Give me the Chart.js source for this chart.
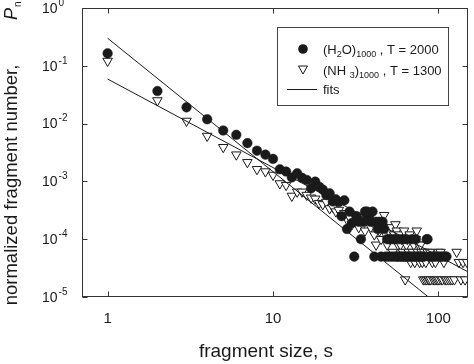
<!DOCTYPE html>
<html>
<head>
<meta charset="utf-8">
<script src="https://cdn.jsdelivr.net/npm/chart.js@4"></script>
<style>
html,body{margin:0;padding:0;background:#fff;}
#wrap{width:474px;height:364px;position:relative;}
</style>
</head>
<body>
<div id="wrap"><canvas id="c" width="474" height="364"></canvas></div>
<script>
// ---- data ----
const h2oSizes = [1,2,3,4,5,6,7,8,9,10,11,12,13,14,15,16,17,18,19,20,21,22,23,24,25,26,27,28,29,30,31,32,33,34,35,36,37,38,39,40,41,42,43,44,45,46,47,48,49,50,51,52,53,54,55,56,57,58,59,60,61,62,63,64,65,66,68,69,70,72,73,74,76,78,80,82,85,86,88,90,93,96,100,103,106,110,112];
const h2oValues = [0.164,0.0366,0.0191,0.0119,0.0076,0.0064,0.0046,0.0034,0.0029,0.00245,0.00162,0.00148,0.00117,0.00138,0.00115,0.00106,0.00076,0.00099,0.00081,0.00072,0.00058,0.00062,0.00045,0.00049,0.00044,0.00025,0.00047,0.00015,0.00030,0.00019,0.00005,0.00025,0.00020,0.00010,0.00020,0.00030,0.00030,0.00025,0.00020,0.00030,0.00005,0.00020,0.00015,0.00020,0.00005,0.00020,0.00015,0.00005,0.00010,0.00005,0.00010,0.00005,0.00010,0.00005,0.00010,0.00005,0.00005,0.00010,0.00005,0.00005,0.00010,0.00005,0.00005,0.00010,0.00005,0.00005,0.00005,0.00010,0.00005,0.00005,0.00010,0.00005,0.00005,0.00005,0.00005,0.00005,0.00010,0.00010,0.00005,0.00005,0.00005,0.00005,0.00005,0.00005,0.00005,0.00005,0.00005];

const nh3Sizes = [1,2,3,4,5,6,7,8,9,10,11,12,13,14,15,16,17,18,19,20,21,22,23,24,25,26,27,28,29,30,31,32,33,34,35,36,37,38,39,40,41,42,43,44,45,46,47,48,49,50,51,52,53,54,55,56,57,58,59,60,61,62,63,64,65,66,67,68,69,70,71,72,73,74,75,76,77,78,79,80,81,82,83,84,85,86,87,88,89,90,92,93,95,96,97,99,100,101,103,104,106,108,110,112,115,118,121,125,129,133,137,141,145,149];
const nh3Values = [0.121,0.0251,0.0111,0.0061,0.0039,0.0029,0.00214,0.00162,0.00148,0.00129,0.00092,0.00086,0.00056,0.00066,0.00066,0.00058,0.00052,0.00050,0.00042,0.00040,0.00044,0.00034,0.00036,0.00030,0.00032,0.00026,0.00028,0.00022,0.00024,0.00018,0.00026,0.00020,0.00016,0.00022,0.00018,0.00014,0.00030,0.00024,0.00016,0.00020,0.00012,0.00008,0.00018,0.00014,0.00010,0.00016,0.00026,0.00012,0.00008,0.00014,0.00010,0.00016,0.00006,0.00012,0.00018,0.00014,0.00008,0.00012,0.00008,0.00010,0.00006,0.00014,0.00002,0.00008,0.00010,0.00006,0.00012,0.00004,0.00010,0.00006,0.00008,0.00004,0.00010,0.00014,0.00006,0.00008,0.00004,0.00008,0.00006,0.00004,0.00002,0.00006,0.00002,0.00004,0.00002,0.00006,0.00002,0.00002,0.00006,0.00002,0.00004,0.00002,0.00002,0.00004,0.00002,0.00002,0.00006,0.00002,0.00006,0.00002,0.00002,0.00004,0.00002,0.00002,0.00002,0.00002,0.00002,0.00002,0.00006,0.00004,0.00002,0.00004,0.00002,0.00004];

// fit line end points
const fitH2oX = [1, 87];
const fitH2oY = [0.30, 0.00001];
const fitNh3X = [1, 150];
const fitNh3Y = [0.059, 0.0000275];

const xTicks = [1, 10, 100];
const xTickLabels = ['1', '10', '100'];
const yTicks = [1, 0.1, 0.01, 0.001, 0.0001, 0.00001];
const yTickExps = ['0', '-1', '-2', '-3', '-4', '-5'];

const xTitle = 'fragment size, s';
const yTitle = 'normalized fragment number,';
const legendLabels = [
  [['(H',13,0],['2',9,3],['O)',13,0],['1000',9,3],[' , T = 2000',13,0]],
  [['(NH ',13,0],['3',9,3],[')',13,0],['1000',9,3],[' , T = 1300',13,0]],
  [['fits',13,0]]
];

const toPts = (xs, ys) => xs.map((x, i) => ({x: x, y: ys[i]}));
const FONT = '"Liberation Sans", Arial, sans-serif';
const INK = '#1a1a1a';

const decor = {
  id: 'decor',
  afterDraw(chart) {
    const ctx = chart.ctx, a = chart.chartArea;
    const xs = chart.scales.x, ys = chart.scales.y;
    ctx.save();
    ctx.strokeStyle = '#333';
    ctx.lineWidth = 1;
    const L = Math.round(a.left) + 0.5, R = Math.round(a.right) - 0.5;
    const T = Math.round(a.top) + 0.5, B = Math.round(a.bottom) - 0.5;
    ctx.strokeRect(L, T, R - L, B - T);
    // inward ticks
    ctx.beginPath();
    xTicks.forEach(v => {
      const px = Math.round(xs.getPixelForValue(v)) + 0.5;
      ctx.moveTo(px, B); ctx.lineTo(px, B - 5);
      ctx.moveTo(px, T); ctx.lineTo(px, T + 5);
    });
    yTicks.forEach(v => {
      const py = Math.round(ys.getPixelForValue(v)) + 0.5;
      ctx.moveTo(L, py); ctx.lineTo(L + 5, py);
      ctx.moveTo(R, py); ctx.lineTo(R - 5, py);
    });
    ctx.stroke();

    ctx.fillStyle = INK;
    // x tick labels
    ctx.font = '15px ' + FONT;
    ctx.textAlign = 'center';
    ctx.textBaseline = 'middle';
    xTicks.forEach((v, i) => {
      ctx.fillText(xTickLabels[i], xs.getPixelForValue(v), 319);
    });
    // y tick labels 10^n
    ctx.textAlign = 'left';
    yTicks.forEach((v, i) => {
      const py = ys.getPixelForValue(v);
      ctx.font = '14px ' + FONT;
      ctx.textBaseline = 'middle';
      ctx.fillText('10', 42, py + 1);
      const w = ctx.measureText('10').width;
      ctx.font = '10px ' + FONT;
      ctx.fillText(yTickExps[i], 42 + w + 1, py - 5);
    });
    // x title
    ctx.font = '19px ' + FONT;
    ctx.textAlign = 'center';
    ctx.textBaseline = 'alphabetic';
    ctx.fillText(xTitle, 266, 357);
    // y title (rotated)
    ctx.save();
    ctx.translate(17, 185);
    ctx.rotate(-Math.PI / 2);
    ctx.font = '18.5px ' + FONT;
    ctx.textAlign = 'center';
    ctx.fillText(yTitle, 0, 0);
    ctx.textAlign = 'left';
    ctx.font = 'italic 18px ' + FONT;
    ctx.fillText('P', 185 - 20, 0);
    const pw = ctx.measureText('P').width;
    ctx.font = '10px ' + FONT;
    ctx.fillText('n', 185 - 20 + pw + 1, 4);
    ctx.restore();

    // legend
    const bx = 277.5, by = 27.5, bw = 171, bh = 78;
    ctx.fillStyle = '#fff';
    ctx.fillRect(bx, by, bw, bh);
    ctx.strokeStyle = '#444';
    ctx.strokeRect(bx, by, bw, bh);
    // markers
    ctx.fillStyle = INK;
    ctx.beginPath(); ctx.arc(303, 49, 4.8, 0, Math.PI * 2); ctx.fill();
    ctx.beginPath();
    ctx.moveTo(298.5, 66); ctx.lineTo(307.5, 66); ctx.lineTo(303, 74); ctx.closePath();
    ctx.fillStyle = '#fff'; ctx.fill();
    ctx.strokeStyle = INK; ctx.stroke();
    ctx.beginPath(); ctx.moveTo(287, 89.5); ctx.lineTo(317, 89.5); ctx.stroke();
    ctx.fillStyle = INK;
    const rowsY = [54, 75, 94];
    legendLabels.forEach((segs, r) => {
      let x = 323;
      segs.forEach(([t, sz, dy]) => {
        ctx.font = sz + 'px ' + FONT;
        ctx.textAlign = 'left';
        ctx.textBaseline = 'alphabetic';
        ctx.fillText(t, x, rowsY[r] + dy);
        x += ctx.measureText(t).width;
      });
    });
    ctx.restore();
  }
};

new Chart(document.getElementById('c'), {
  type: 'scatter',
  data: {
    datasets: [
      {
        label: 'fit H2O', data: toPts(fitH2oX, fitH2oY), showLine: true,
        borderColor: INK, borderWidth: 1, pointRadius: 0, fill: false
      },
      {
        label: 'fit NH3', data: toPts(fitNh3X, fitNh3Y), showLine: true,
        borderColor: INK, borderWidth: 1, pointRadius: 0, fill: false
      },
      {
        label: '(H2O)1000, T = 2000', data: toPts(h2oSizes, h2oValues),
        pointStyle: 'circle', pointRadius: 4.8, backgroundColor: INK,
        borderColor: INK, borderWidth: 0.5
      },
      {
        label: '(NH3)1000, T = 1300', data: toPts(nh3Sizes, nh3Values),
        pointStyle: 'triangle', pointRotation: 180, pointRadius: 5.5,
        backgroundColor: '#fff', borderColor: INK, borderWidth: 1
      }
    ]
  },
  options: {
    responsive: false,
    animation: false,
    events: [],
    layout: {padding: {top: 8, right: 6, left: 0, bottom: 0}},
    plugins: {legend: {display: false}, tooltip: {enabled: false}},
    scales: {
      x: {
        type: 'logarithmic', min: 0.705, max: 150,
        grid: {display: false}, border: {display: false},
        ticks: {display: false},
        afterFit: s => { s.height = 67; }
      },
      y: {
        type: 'logarithmic', min: 0.00001, max: 1,
        grid: {display: false}, border: {display: false},
        ticks: {display: false},
        afterFit: s => { s.width = 82; }
      }
    }
  },
  plugins: [decor]
});
</script>
</body>
</html>
